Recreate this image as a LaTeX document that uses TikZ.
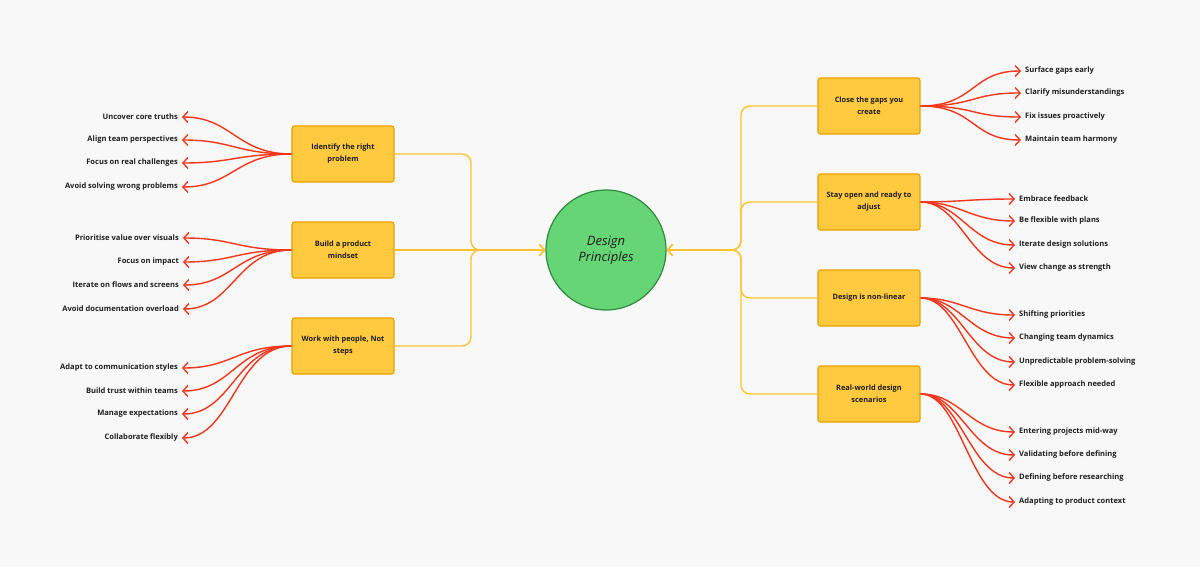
\documentclass[tikz,border=0pt]{standalone}
\usepackage{fontspec}
\setmainfont{Open Sans}
\usetikzlibrary{arrows.meta}
\definecolor{bg}{HTML}{F8F8F8}
\definecolor{boxfill}{HTML}{FFC940}
\definecolor{boxline}{HTML}{E9A100}
\definecolor{yl}{HTML}{FFC233}
\definecolor{rd}{HTML}{F2361C}
\definecolor{gfill}{HTML}{66D575}
\definecolor{gline}{HTML}{2E8B3E}
\definecolor{txt}{HTML}{1E1E1E}
\tikzset{
  topic/.style={draw=boxline, fill=boxfill, line width=1.2pt, rounded corners=2.5pt,
    minimum width=102pt, minimum height=56pt, align=center,
    font=\fontsize{7.4}{12}\selectfont\bfseries, text=txt, inner sep=0pt},
  leafL/.style={anchor=east, font=\fontsize{7.55}{9}\selectfont\bfseries, text=txt, inner sep=0pt},
  leafR/.style={anchor=west, font=\fontsize{7.55}{9}\selectfont\bfseries, text=txt, inner sep=0pt},
  yline/.style={draw=yl, line width=1.4pt, rounded corners=9pt},
  yarrow/.style={yline, -{Straight Barb[length=5pt,width=11pt,line width=1.4pt]}},
  rline/.style={draw=rd, line width=1.4pt, -{Straight Barb[length=5pt,width=11pt,line width=1.4pt]}},
}
\begin{document}
\begin{tikzpicture}[x=1pt,y=-1pt]
\fill[bg] (0,0) rectangle (1200,567);
\useasboundingbox (0,0) rectangle (1200,567);

% center
\node[circle, draw=gline, fill=gfill, line width=1.2pt, minimum size=120pt, inner sep=0pt,
  align=center, font=\fontsize{13}{16}\selectfont\itshape, text=txt] (dp) at (606,250) {Design\\Principles};

% left topics
\node[topic] (t1) at (343,154) {Identify the right\\problem};
\node[topic] (t2) at (343,250) {Build a product\\mindset};
\node[topic] (t3) at (343,346) {Work with people, Not\\steps};
% right topics
\node[topic] (r1) at (869,106) {Close the gaps you\\create};
\node[topic] (r2) at (869,202) {Stay open and ready to\\adjust};
\node[topic] (r3) at (869,298) {Design is non-linear};
\node[topic] (r4) at (869,394) {Real-world design\\scenarios};

% yellow connectors
\coordinate (jl) at (471,250);
\coordinate (jr) at (741,250);
\draw[yarrow] (t1.east) -| (jl) -- (dp.west);
\draw[yarrow] (t3.east) -| (jl) -- (dp.west);
\draw[yarrow] (t2.east) -- (dp.west);
\draw[yarrow] (r1.west) -| (jr) -- (dp.east);
\draw[yarrow] (r2.west) -| (jr) -- (dp.east);
\draw[yarrow] (r3.west) -| (jr) -- (dp.east);
\draw[yarrow] (r4.west) -| (jr) -- (dp.east);

% left leaves
\node[leafL] (a1) at (178,117) {Uncover core truths};
\node[leafL] (a2) at (178,140) {Align team perspectives};
\node[leafL] (a3) at (178,163) {Focus on real challenges};
\node[leafL] (a4) at (178,187) {Avoid solving wrong problems};
\node[leafL] (b1) at (179,238) {Prioritise value over visuals};
\node[leafL] (b2) at (179,262) {Focus on impact};
\node[leafL] (b3) at (179,285) {Iterate on flows and screens};
\node[leafL] (b4) at (179,309) {Avoid documentation overload};
\node[leafL] (c1) at (178,368) {Adapt to communication styles};
\node[leafL] (c2) at (178,391) {Build trust within teams};
\node[leafL] (c3) at (178,414) {Manage expectations};
\node[leafL] (c4) at (178,438) {Collaborate flexibly};

\foreach \l in {a1,a2,a3,a4} \draw[rline] (t1.west) .. controls +(-55,0) and +(50,0) .. ([xshift=4pt]\l.east);
\foreach \l in {b1,b2,b3,b4} \draw[rline] (t2.west) .. controls +(-55,0) and +(50,0) .. ([xshift=4pt]\l.east);
\foreach \l in {c1,c2,c3,c4} \draw[rline] (t3.west) .. controls +(-55,0) and +(50,0) .. ([xshift=4pt]\l.east);

% right leaves
\node[leafR] (d1) at (1025,71) {Surface gaps early};
\node[leafR] (d2) at (1025,93) {Clarify misunderstandings};
\node[leafR] (d3) at (1025,117) {Fix issues proactively};
\node[leafR] (d4) at (1025,140) {Maintain team harmony};
\node[leafR] (e1) at (1019,199) {Embrace feedback};
\node[leafR] (e2) at (1019,221) {Be flexible with plans};
\node[leafR] (e3) at (1019,245) {Iterate design solutions};
\node[leafR] (e4) at (1019,268) {View change as strength};
\node[leafR] (f1) at (1019,315) {Shifting priorities};
\node[leafR] (f2) at (1019,338) {Changing team dynamics};
\node[leafR] (f3) at (1019,362) {Unpredictable problem-solving};
\node[leafR] (f4) at (1019,385) {Flexible approach needed};
\node[leafR] (g1) at (1019,432) {Entering projects mid-way};
\node[leafR] (g2) at (1019,455) {Validating before defining};
\node[leafR] (g3) at (1019,478) {Defining before researching};
\node[leafR] (g4) at (1019,502) {Adapting to product context};

\foreach \l in {d1,d2,d3,d4} \draw[rline] (r1.east) .. controls +(55,0) and +(-50,0) .. ([xshift=-4pt]\l.west);
\foreach \l in {e1,e2,e3,e4} \draw[rline] (r2.east) .. controls +(40,0) and +(-45,0) .. ([xshift=-4pt]\l.west);
\foreach \l in {f1,f2,f3,f4} \draw[rline] (r3.east) .. controls +(40,0) and +(-45,0) .. ([xshift=-4pt]\l.west);
\foreach \l in {g1,g2,g3,g4} \draw[rline] (r4.east) .. controls +(40,0) and +(-45,0) .. ([xshift=-4pt]\l.west);
\end{tikzpicture}
\end{document}
